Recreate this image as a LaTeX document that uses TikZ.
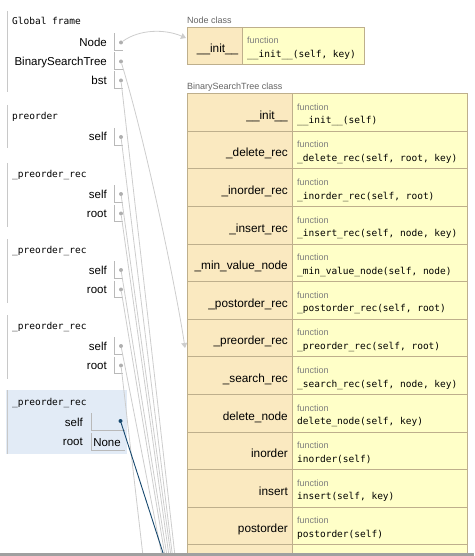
\documentclass[tikz,border=0pt]{standalone}
\usepackage{fontspec}
\setmainfont{Liberation Sans}
\newfontfamily\codefont{DejaVu Sans Mono}
\usetikzlibrary{arrows.meta}
\definecolor{framegray}{RGB}{200,200,200}
\definecolor{slotgray}{RGB}{185,185,185}
\definecolor{dotgray}{RGB}{175,175,175}
\definecolor{ptrgray}{RGB}{205,205,205}
\definecolor{keybg}{RGB}{250,233,192}
\definecolor{valbg}{RGB}{255,255,200}
\definecolor{tblline}{RGB}{190,175,140}
\definecolor{hlbg}{RGB}{226,235,246}
\definecolor{hlptr}{RGB}{22,72,110}
\definecolor{capgray}{RGB}{100,100,100}
\definecolor{fngray}{RGB}{125,125,125}
\definecolor{bargray}{RGB}{160,160,160}
\tikzset{
  frameline/.style={framegray,line width=1pt},
  slotline/.style={slotgray,line width=0.8pt},
  ftitle/.style={anchor=base west,inner sep=0pt,font=\codefont\fontsize{9.5}{11}\selectfont},
  varlbl/.style={anchor=base east,inner sep=0pt,font=\fontsize{11.5}{13}\selectfont},
  refdot/.style={circle,fill=dotgray,inner sep=0pt,minimum size=4pt},
  ptr/.style={ptrgray,line width=0.8pt},
  ptrtip/.style={-{Triangle[width=6pt,length=5pt]}},
  caplbl/.style={anchor=base west,inner sep=0pt,text=capgray,font=\fontsize{9}{10}\selectfont},
  keylbl/.style={anchor=base east,inner sep=0pt,font=\fontsize{11.8}{13}\selectfont},
  fnlbl/.style={anchor=base west,inner sep=0pt,text=fngray,font=\fontsize{9}{10}\selectfont},
  codelbl/.style={anchor=base west,inner sep=0pt,font=\codefont\fontsize{9.5}{11}\selectfont},
}
\begin{document}
\begin{tikzpicture}[x=1pt,y=-1pt]
\pgfmathsetmacro{\rowh}{37.6}
\pgfmathsetmacro{\tbltop}{93.3}
\useasboundingbox (0,0) rectangle (474,556);
% current frame
\fill[hlbg] (6,390) rectangle (127,454);
% global frame
\draw[frameline] (7,11)--(7,92);
\node[ftitle] (gTitle) at (12,24.5) {Global frame};
\foreach \v/\n/\vy in {Node/gNode/42.5,BinarySearchTree/gBST/61.5,bst/gBst/80.5}{
  \node[varlbl] (\n-l) at (107,\vy+4) {\v};
  \draw[slotline] (114,\vy-9)--(114,\vy+8)--(123,\vy+8);
  \node[refdot] (\n) at (121,\vy) {};
}
% preorder
\draw[frameline] (7,105)--(7,148);
\node[ftitle] (pTitle) at (12,119.5) {preorder};
\node[varlbl] (pSelf-l) at (107,141) {self};
\draw[slotline] (114,128)--(114,145)--(123,145);
\node[refdot] (pSelf) at (121,137) {};
% _preorder_rec frames
\foreach \ft/\i in {163/1,239/2,315/3}{
  \draw[frameline] (7,\ft)--(7,\ft+64);
  \node[ftitle] (rTitle\i) at (12,\ft+14.5) {\_preorder\_rec};
  \foreach \v/\dy in {self/31,root/50.5}{
    \node[varlbl] (r\v\i-l) at (107,\ft+\dy+4) {\v};
    \draw[slotline] (114,\ft+\dy-9)--(114,\ft+\dy+8)--(123,\ft+\dy+8);
    \node[refdot] (r\v\i) at (121,\ft+\dy) {};
  }
}
\draw[frameline] (7,390)--(7,454);
\node[ftitle] (hTitle) at (12,405.5) {\_preorder\_rec};
\node[varlbl] (hSelf-l) at (83,426) {self};
\node[varlbl] (hRoot-l) at (83,445.5) {root};
\draw[slotline] (91,413)--(91,430)--(125,430);
\draw[slotline] (91,433)--(91,450)--(125,450);
\node[varlbl,anchor=base] (hRoot) at (107,446) {None};
\node[refdot,fill=hlptr] (hSelf) at (120.5,421) {};
% Node class
\node[caplbl] (nCap) at (187,23.5) {Node class};
\fill[keybg] (187,27) rectangle (242,64);
\fill[valbg] (242,27) rectangle (364,64);
\draw[tblline] (187,27) rectangle (364,64) (242,27)--(242,64);
\node[keylbl] (nKey) at (238.5,53) {\_\_init\_\_};
\node[fnlbl] (nFn) at (247,44) {function};
\node[codelbl] (nCode) at (247,57.5) {\_\_init\_\_(self, key)};
\coordinate (nCls) at (186,38);
% BinarySearchTree class
\node[caplbl] (bCap) at (187,89.3) {BinarySearchTree class};
\fill[keybg] (187,\tbltop) rectangle (291.7,553);
\fill[valbg] (291.7,\tbltop) rectangle (466.7,553);
\draw[tblline] (187,553)--(187,\tbltop)--(466.7,\tbltop)--(466.7,553) (291.7,\tbltop)--(291.7,553);
\foreach \key/\fun [count=\i from 0] in {
  {\_\_init\_\_}/{\_\_init\_\_(self)},
  {\_delete\_rec}/{\_delete\_rec(self, root, key)},
  {\_inorder\_rec}/{\_inorder\_rec(self, root)},
  {\_insert\_rec}/{\_insert\_rec(self, node, key)},
  {\_min\_value\_node}/{\_min\_value\_node(self, node)},
  {\_postorder\_rec}/{\_postorder\_rec(self, root)},
  {\_preorder\_rec}/{\_preorder\_rec(self, root)},
  {\_search\_rec}/{\_search\_rec(self, node, key)},
  {delete\_node}/{delete\_node(self, key)},
  {inorder}/{inorder(self)},
  {insert}/{insert(self, key)},
  {postorder}/{postorder(self)}}{
  \pgfmathsetmacro{\ry}{\tbltop+\rowh*\i}
  \draw[tblline] (187,\ry+\rowh)--(466.7,\ry+\rowh);
  \node[keylbl] (bKey\i) at (288,\ry+26) {\key};
  \node[fnlbl] (bFn\i) at (297,\ry+17) {function};
  \node[codelbl] (bCode\i) at (297,\ry+30.5) {\fun};
}
\coordinate (bCls) at (185,348);
% pointers
\draw[ptr,ptrtip] (gNode) .. controls (140,29) and (165,29) .. (nCls);
\draw[ptr,ptrtip] (gBST) .. controls (148,150) and (178,300) .. (bCls);
\foreach \s/\e in {gBst/175,pSelf/172.5,rself1/171,rroot1/169,rself2/167,rroot2/165,rself3/162,rroot3/143}{
  \coordinate (\s-e) at (\e,556);
  \draw[ptr] (\s)--(\s-e);
}
\coordinate (hSelf-e) at (164,556);
\draw[hlptr,line width=0.9pt] (hSelf)--(hSelf-e);
\fill[bargray] (0,552.5) rectangle (474,556);
\end{tikzpicture}
\end{document}
